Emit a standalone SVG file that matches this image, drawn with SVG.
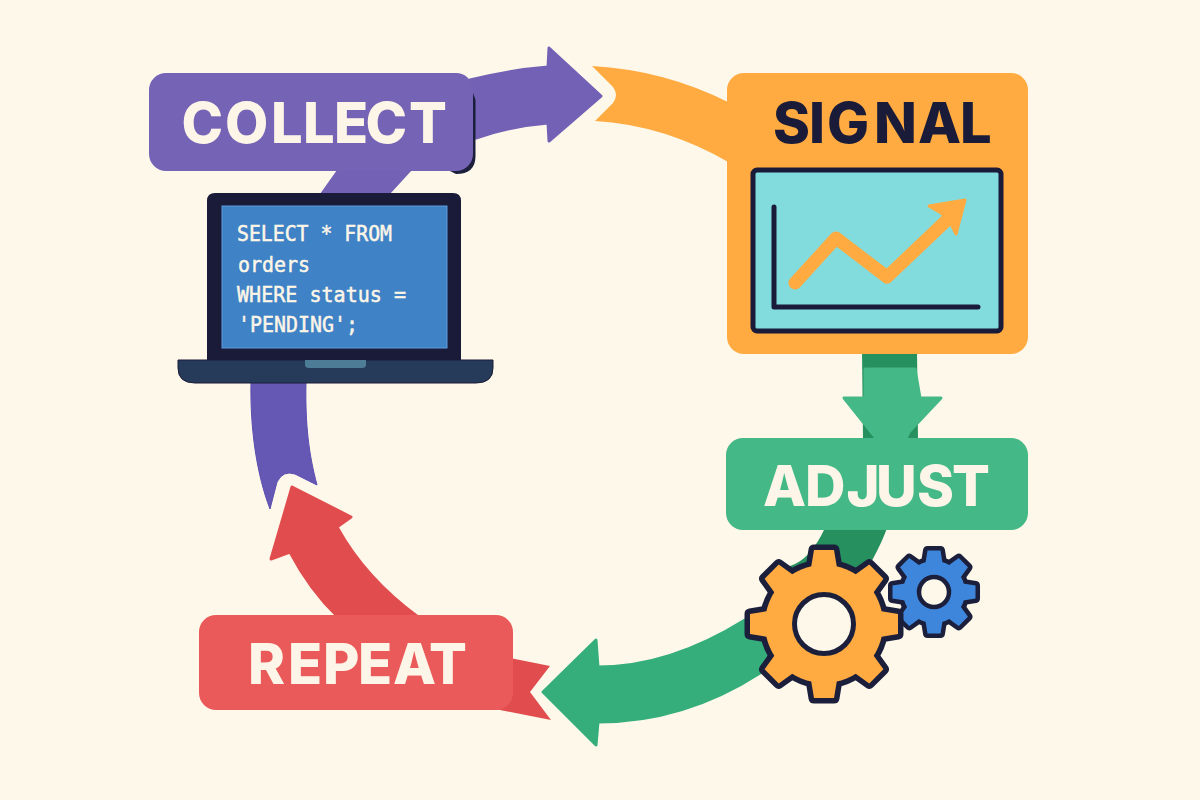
<svg xmlns="http://www.w3.org/2000/svg" width="1200" height="800" viewBox="0 0 1200 800">
<style>
.label{font-family:"Inter","Liberation Sans",sans-serif;font-weight:800;font-size:56px}
.code{font-family:"DejaVu Sans Mono","Liberation Mono",monospace;font-size:21.5px;fill:#FDF6E8;font-weight:400;stroke:#FDF6E8;stroke-width:.5}
.cream{fill:#FEF8EA}
.rj{stroke-linejoin:round;stroke-width:3}
.pur{fill:#7261B5;stroke:#7261B5}
.pur2{fill:#6558B4;stroke:#5A4DB0;stroke-width:1}
.org{fill:#FFAB41;stroke:#FFAB41}
.grn{fill:#35AE7C;stroke:#35AE7C}
.grn2{fill:#44B886;stroke:#44B886}
.dgrn{fill:#27905F}
.red{fill:#E14C4E;stroke:#E14C4E}
.gear-out{fill:#1B1F3B;stroke:#1B1F3B;stroke-linejoin:round}
.hole{fill:#FEF8EA;stroke:#1B1F3B}
</style>
<defs>
<polygon id="tb" points="-13,-56 -10,-74 10,-74 13,-56"/>
<polygon id="ts" points="-8.500,-29 -6.500,-41.500 6.500,-41.500 8.500,-29"/>
<g id="bigGear">
<circle r="59"/>
<use href="#tb"/><use href="#tb" transform="rotate(45)"/><use href="#tb" transform="rotate(90)"/><use href="#tb" transform="rotate(135)"/><use href="#tb" transform="rotate(180)"/><use href="#tb" transform="rotate(225)"/><use href="#tb" transform="rotate(270)"/><use href="#tb" transform="rotate(315)"/>
</g>
<g id="smallGear">
<circle r="31"/>
<use href="#ts"/><use href="#ts" transform="rotate(45)"/><use href="#ts" transform="rotate(90)"/><use href="#ts" transform="rotate(135)"/><use href="#ts" transform="rotate(180)"/><use href="#ts" transform="rotate(225)"/><use href="#ts" transform="rotate(270)"/><use href="#ts" transform="rotate(315)"/>
</g>
</defs>
<rect class="cream" width="1200" height="800"/>
<g id="connectors">
<path class="pur rj" d="M470 80Q510 70 548 67L549 48L601 96L549 141L548 123Q510 126 476 138Z"/>
<path class="pur" stroke-width="0" d="M337 170L412 170L390 194L320 194Z"/>
<path class="pur2" d="M251 382C250 430 257 475 270 509L277 482Q283 470 295 474L317 485C309 455 305 425 306 382Z"/>
<path class="org" stroke-width="0" d="M592 66Q665 70 730 103L730 163Q665 125 595 121L613 103Q619 95 613 87Z"/>
<path class="dgrn" d="M862 350L917 350L918 440L863 440Z"/>
<path class="grn2 rj" stroke-width="1" d="M865 369L915 369L920 398L941 398L909 432L892 470L876 438L844 398L865 398Z"/>
<path class="dgrn" d="M825 528L887 528Q880 548 862 578L790 590L790 566Q810 560 825 528Z"/>
<path class="grn rj" d="M598 667C650 667 700 648 745 620L790 640L760 673C715 702 660 722 598 722L596 745L543 692L596 640Z"/>
<path class="red rj" d="M337 527Q365 578 418 617L338 617Q310 590 290 552L271 559L292 487L351 517Z"/>
<path class="red" stroke-width="0" d="M510 658L550 666L530 692L551 720L490 708Z"/>
</g>
<g id="node-collect">
<path d="M472 90L475.500 100V156Q475.500 174 456 174L450 171Z" fill="#1B1F3B"/>
<rect x="149" y="73" width="324" height="98" rx="17" fill="#7563B6"/>
<text class="label" x="181.500 225 271 303 334 365.500 409" y="143" fill="#FDF6E8">COLLECT</text>
</g>
<g id="node-laptop">
<path d="M207 362V201Q207 193 215 193H453Q461 193 461 201V362Z" fill="#1A1B38"/>
<rect x="222" y="206" width="225" height="142" fill="#3F82C6" stroke="#5C9CDD" stroke-width="1"/>
<text class="code" x="237" y="241" textLength="155" lengthAdjust="spacingAndGlyphs">SELECT * FROM</text>
<text class="code" x="238" y="272" textLength="72" lengthAdjust="spacingAndGlyphs">orders</text>
<text class="code" x="237" y="302" textLength="169" lengthAdjust="spacingAndGlyphs">WHERE status =</text>
<text class="code" x="238" y="332" textLength="120" lengthAdjust="spacingAndGlyphs">'PENDING';</text>
<path d="M178 360H493V368Q493 383 476 383H195Q178 383 178 368Z" fill="#263A5A" stroke="#1A1B38" stroke-width="1"/>
<path d="M305 360H366V365Q366 368 362 368H309Q305 368 305 365Z" fill="#4D7C96"/>
</g>
<g id="node-signal">
<rect x="727" y="73" width="301" height="281" rx="17" fill="#FFAB41"/>
<text class="label" x="773 809 827 874 918 960" y="143" fill="#1A1B38">SIGNAL</text>
<rect x="753" y="170" width="248" height="161" rx="4" fill="#82DCDE" stroke="#1A1B38" stroke-width="5"/>
<path d="M774 207V307H978" fill="none" stroke="#1A1B38" stroke-width="5" stroke-linecap="round" stroke-linejoin="round"/>
<path d="M795 283L836 238L887 277L947 220" fill="none" stroke="#FFAB41" stroke-width="13" stroke-linecap="round" stroke-linejoin="round"/>
<path d="M965 200L929 206L941 213L950 222L956 234Z" fill="#FFAB41" stroke="#FFAB41" stroke-width="3" stroke-linejoin="round"/>
</g>
<g id="node-adjust">
<rect x="726" y="438" width="302" height="92" rx="17" fill="#44B886"/>
<text class="label" x="763 805 846.500 876 917 952" y="506" fill="#FDF6E8">ADJUST</text>
</g>
<g id="gear-small" transform="translate(934 592)">
<use href="#smallGear" class="gear-out" stroke-width="9"/>
<use href="#smallGear" fill="#3E86DC"/>
<circle class="hole" r="15" stroke-width="4.500"/>
</g>
<g id="gear-large" transform="translate(824 624)">
<use href="#bigGear" class="gear-out" stroke-width="11"/>
<use href="#bigGear" fill="#FFAB41"/>
<circle class="hole" r="29.500" stroke-width="5"/>
</g>
<g id="node-repeat">
<rect x="199" y="615" width="314" height="95" rx="17" fill="#EA5A5A"/>
<text class="label" x="248 288 323 358 393 429" y="684" fill="#FDF6E8">REPEAT</text>
</g>
</svg>
